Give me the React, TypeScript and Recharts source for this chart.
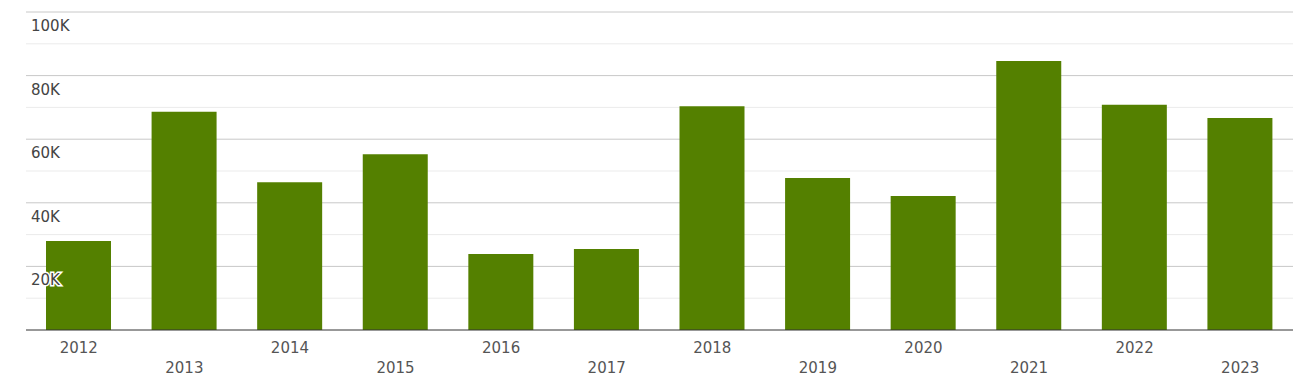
import { BarChart, Bar, XAxis, YAxis, CartesianGrid } from 'recharts';

const years = ['2012', '2013', '2014', '2015', '2016', '2017', '2018', '2019', '2020', '2021', '2022', '2023'];
const values = [28000, 68600, 46500, 55300, 23900, 25500, 70400, 47800, 42100, 84600, 70800, 66700];
const majorTicks = [20000, 40000, 60000, 80000, 100000];
const minorTicks = [10000, 30000, 50000, 70000, 90000];

const data = years.map((year, i) => ({ year, value: values[i] }));

const FONT = '"DejaVu Sans", Verdana, sans-serif';

function fmtK(v: number) {
  return `${Math.round(v / 1000)}K`;
}

// y labels sit inside the plot, just under their gridline, with a white halo
function YTick({ y, payload }: any) {
  return (
    <text
      x={31}
      y={y + 19}
      fontSize={15}
      fontFamily={FONT}
      fill="#444"
      stroke="#fff"
      strokeWidth={3}
      paintOrder="stroke"
      textAnchor="start"
    >
      {fmtK(payload.value)}
    </text>
  );
}

// alternate years drop to a second row
function XTick({ x, y, payload, index }: any) {
  const row = index % 2 === 0 ? 0 : 20;
  return (
    <text x={x} y={y + 15 + row} fontSize={15} fontFamily={FONT} fill="#555" textAnchor="middle">
      {payload.value}
    </text>
  );
}

export default function App() {
  return (
    <div style={{ position: 'absolute', left: 0, top: 0, width: 1293, height: 384, background: '#fff' }}>
      <BarChart width={1293} height={384} data={data} margin={{ top: 12, right: 0, left: 26, bottom: 0 }}>
        <CartesianGrid vertical={false} horizontalValues={minorTicks} stroke="#ebebeb" />
        <CartesianGrid vertical={false} horizontalValues={majorTicks} stroke="#c8c8c8" />
        <XAxis
          dataKey="year"
          axisLine={{ stroke: '#333' }}
          tickLine={false}
          height={54}
          interval={0}
          tick={<XTick />}
        />
        <YAxis
          domain={[0, 100000]}
          ticks={majorTicks}
          width={1}
          mirror
          axisLine={false}
          tickLine={false}
          interval={0}
          tick={<YTick />}
        />
        <Bar dataKey="value" fill="#548000" barSize={65} isAnimationActive={false} />
      </BarChart>
    </div>
  );
}
